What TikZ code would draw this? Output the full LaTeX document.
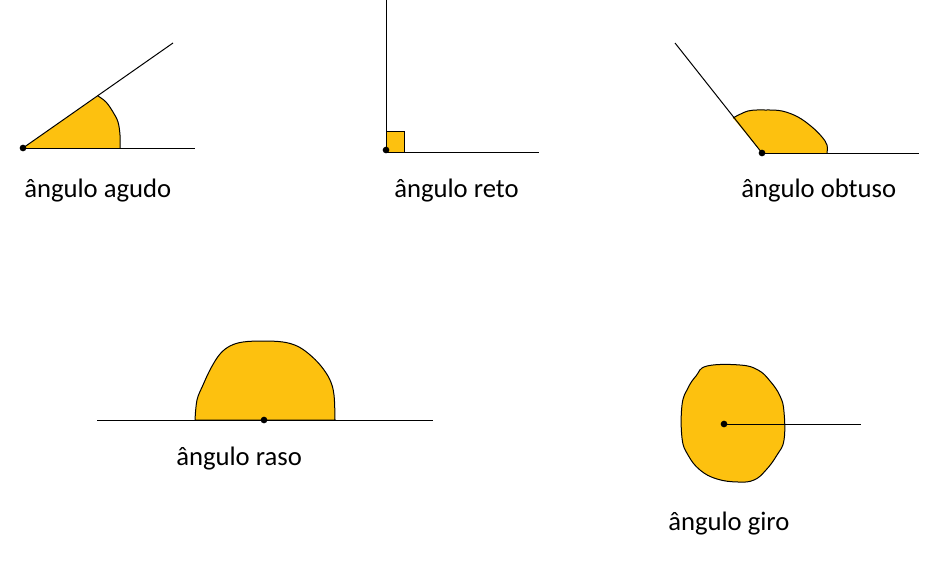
\documentclass[tikz,border=0pt]{standalone}
\usepackage{fontspec}
\setmainfont{Carlito}
\definecolor{gold}{RGB}{253,193,15}
\begin{document}
\begin{tikzpicture}[x=0.75pt,y=-0.75pt,
  ray/.style={draw=black,line width=0.75pt},
  sector/.style={fill=gold,draw=black,line width=0.75pt},
  vtx/.style={circle,fill=black,inner sep=0pt,minimum size=5pt},
  lbl/.style={anchor=base west,inner sep=0pt,font=\fontsize{20}{24}\selectfont}]
\useasboundingbox (0,0) rectangle (948,575);
% acute
\coordinate (a0) at (23,148);
\coordinate (a1) at (195,148);
\coordinate (a2) at (173,43);
\fill[gold] (a0) -- plot[smooth,tension=0.6] coordinates {(98,96) (106,102) (113,112) (118,122) (120,135) (120,148)} -- cycle;
\draw[ray] plot[smooth,tension=0.6] coordinates {(98,96) (106,102) (113,112) (118,122) (120,135) (120,148)};
\draw[ray] (a0) -- (a1);
\draw[ray] (a0) -- (a2);
\node[vtx] (va) at (a0) {};
\node[lbl] (la) at (24,197) {ângulo agudo};
% right
\coordinate (r0) at (386,152);
\coordinate (r1) at (539,152);
\coordinate (r2) at (386,0);
\draw[sector] (386,131) rectangle (404,152);
\draw[ray] (r0) -- (r1);
\draw[ray] (r0) -- (r2);
\node[vtx] (vr) at (386,150) {};
\node[lbl] (lr) at (394,197) {ângulo reto};
% obtuse
\coordinate (o0) at (762,153);
\coordinate (o1) at (919,153);
\coordinate (o2) at (675,43);
\fill[gold] (o0) -- plot[smooth,tension=0.6] coordinates {(733,118) (748,111) (765,110) (782,111) (798,117) (812,127) (822,137) (827,145) (827,153)} -- cycle;
\draw[ray] plot[smooth,tension=0.6] coordinates {(733,118) (748,111) (765,110) (782,111) (798,117) (812,127) (822,137) (827,145) (827,153)};
\draw[ray] (o0) -- (o1);
\draw[ray] (o0) -- (o2);
\node[vtx] (vo) at (o0) {};
\node[lbl] (lo) at (741,197) {ângulo obtuso};
% straight
\coordinate (s0) at (264,420);
\coordinate (s1) at (97,420);
\coordinate (s2) at (433,420);
\filldraw[sector] plot[smooth,tension=0.6] coordinates {(195,420) (197,400) (203,385) (211,368) (220,354) (230,346) (243,342) (263,341) (283,342) (297,346) (309,354) (321,366) (330,380) (334,395) (335,420)} -- cycle;
\draw[ray] (s1) -- (s2);
\node[vtx] (vs) at (s0) {};
\node[lbl] (ls) at (176,465) {ângulo raso};
% full
\coordinate (g0) at (724,424);
\coordinate (g1) at (861,424);
\filldraw[sector] plot[smooth cycle,tension=0.7] coordinates {(707,366) (740,365) (758,370) (770,381) (780,396) (784,412) (784,440) (777,455) (766,470) (754,480) (738,482) (717,479) (700,470) (688,455) (682,438) (682,405) (688,388) (696,376)};
\draw[ray] (g0) -- (g1);
\node[vtx] (vg) at (g0) {};
\node[lbl] (lg) at (668,530) {ângulo giro};
\end{tikzpicture}
\end{document}
